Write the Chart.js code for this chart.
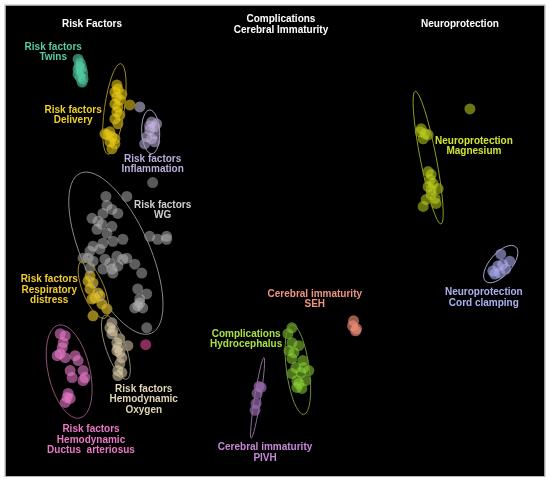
<!DOCTYPE html>
<html>
<head>
<meta charset="utf-8">
<script src="https://cdn.jsdelivr.net/npm/chart.js@4"></script>
<style>
html,body{margin:0;padding:0;background:#ffffff;}
canvas{display:block;}
</style>
</head>
<body>
<canvas id="c" width="550" height="482"></canvas>
<script>
// ---- Data (embedding coordinates) ----
const twins = [[78,57],[80,61],[79,64],[78,67],[82,70],[78,72],[80,75],[83,77],[82,80],[81,66]];
const delivery = [[117,83],[118,87],[115,90],[122,92],[117,95],[120,98],[115,102],[118,105],[117,110],[120,113],[115,117],[118,122],[105,132],[110,130],[107,133],[112,135],[115,137],[110,140],[115,142],[112,147]];
const deliveryOut = [[130,103]];
const inflammation = [[152,120],[157,122],[155,125],[150,128],[155,132],[147,135],[152,137],[155,140],[145,142],[150,124]];
const inflammationOut = [[140,105]];
const wg = [[106,195],[127,195],[107,204],[112,208],[103,212],[118,212],[92,217],[98,220],[102,223],[112,225],[97,228],[107,232],[113,240],[123,238],[103,242],[93,245],[90,250],[100,248],[88,257],[93,260],[105,258],[110,262],[117,255],[123,258],[112,268],[118,265],[127,257],[135,263],[142,272],[103,268],[113,272],[150,235],[158,238],[167,235],[167,238],[138,288],[147,293],[140,298],[138,305],[143,307],[135,307],[147,327],[90,267],[83,257],[140,302]];
const wgOut = [[153,181]];
const respiratory = [[90,275],[88,280],[93,282],[90,288],[98,292],[95,297],[100,295],[92,298],[102,303],[107,308],[93,315]];
const oxygen = [[112,322],[110,327],[113,330],[112,333],[120,338],[117,342],[128,345],[118,347],[117,350],[120,352],[122,357],[120,363],[118,370],[122,372],[118,375]];
const ductus = [[60,333],[65,335],[63,342],[62,347],[60,353],[57,355],[65,357],[75,355],[78,360],[70,370],[72,377],[83,370],[85,377],[83,380],[68,393],[67,397],[70,398],[65,402]];
const ductusOut = [[146,344]];
const hydrocephalus = [[293,327],[289,333],[293,342],[300,345],[290,350],[295,352],[293,358],[304,360],[297,367],[305,367],[310,370],[302,372],[293,373],[298,380],[307,380],[300,383],[298,387],[303,388]];
const pivh = [[260,386],[262,387],[258,393],[257,403],[256,410]];
const seh = [[355,320],[354,325],[358,328],[357,330]];
const magnesium = [[423,127],[422,130],[427,132],[425,137],[430,133],[430,170],[433,173],[432,178],[435,182],[430,185],[440,187],[433,188],[433,193],[437,197],[428,198],[438,202],[425,205]];
const magnesiumOut = [[472,107]];
const cordClamping = [[503,253],[512,260],[505,263],[500,265],[495,270],[497,273],[508,268],[502,272]];

// confidence ellipses: centre, semi-axes (minor, major), tilt in degrees
const ellipses = [
  {cx:81, cy:69, b:6, a:15, rot:-8, color:'#3f8a72'},
  {cx:114.5, cy:107, b:10, a:46, rot:8, color:'#9c8a1c'},
  {cx:151, cy:130, b:9, a:22, rot:-3, color:'#a79fbc'},
  {cx:116, cy:252, b:34, a:88, rot:-24, color:'#8a8a8a'},
  {cx:93.5, cy:288.5, b:11, a:31, rot:-22, color:'#a08a22'},
  {cx:116, cy:346.5, b:10, a:34, rot:-19, color:'#8c8474'},
  {cx:69, cy:371, b:21, a:48, rot:-13, color:'#8e4f76'},
  {cx:299, cy:369, b:11.5, a:45.5, rot:-7.6, color:'#6f8e34'},
  {cx:258.5, cy:397.5, b:3, a:41, rot:9, color:'#8a6c9c'},
  {cx:430, cy:156, b:8, a:68, rot:-11, color:'#8e9c1e'},
  {cx:503, cy:263, b:11, a:23, rot:41, color:'#a2a2d6'}
];

const headers = [
  {lines:['Risk Factors'], x:92, y:22},
  {lines:['Complications','Cerebral Immaturity'], x:282, y:17},
  {lines:['Neuroprotection'], x:462, y:22}
];
const labels = [
  {lines:['Risk factors','Twins'], x:53, y:45, color:'#58cba6'},
  {lines:['Risk factors','Delivery'], x:73, y:108, color:'#f0d020'},
  {lines:['Risk factors','Inflammation'], x:153, y:157.5, color:'#bcaedb'},
  {lines:['Risk factors','WG'], x:163, y:203.5, color:'#cfcfcf'},
  {lines:['Risk factors','Respiratory','distress'], x:49, y:278.5, color:'#f2cc2c'},
  {lines:['Risk factors','Hemodynamic','Oxygen'], x:144, y:388.5, color:'#e2d4b4'},
  {lines:['Risk factors','Hemodynamic','Ductus  arteriosus'], x:91, y:429.5, color:'#ea78c6'},
  {lines:['Cerebral immaturity','SEH'], x:316, y:293, color:'#ee9480'},
  {lines:['Complications','Hydrocephalus'], x:247, y:333, color:'#a8e044'},
  {lines:['Cerebral immaturity','PIVH'], x:266, y:447.5, color:'#c888da'},
  {lines:['Neuroprotection','Magnesium'], x:476, y:139.5, color:'#d4e432'},
  {lines:['Neuroprotection','Cord clamping'], x:486, y:291.5, color:'#aab2f0'}
];

const toXY = arr => arr.map(p => ({x:p[0], y:p[1]}));
function ds(arr, color, r){
  return {data: toXY(arr), backgroundColor: color, borderWidth: 0, pointRadius: r || 5.5, pointHoverRadius: r || 5.5};
}

const bgPlugin = {
  id:'bg',
  beforeDraw(chart){
    const {ctx, chartArea:a} = chart;
    ctx.save();
    ctx.fillStyle = '#000';
    ctx.fillRect(a.left, a.top, a.right-a.left, a.bottom-a.top);
    ctx.strokeStyle = '#b4b4b4';
    ctx.lineWidth = 1;
    ctx.strokeRect(a.left-0.5, a.top-0.5, a.right-a.left+1, a.bottom-a.top+1);
    ctx.restore();
  }
};

const ellipsePlugin = {
  id:'ellipses',
  afterDatasetsDraw(chart){
    const {ctx, scales:{x, y}} = chart;
    ctx.save();
    ellipses.forEach(e => {
      const px = x.getPixelForValue(e.cx), py = y.getPixelForValue(e.cy);
      const kx = Math.abs(x.getPixelForValue(e.cx+1) - px);
      const ky = Math.abs(y.getPixelForValue(e.cy+1) - py);
      ctx.beginPath();
      ctx.ellipse(px, py, e.b*kx, e.a*ky, e.rot*Math.PI/180, 0, Math.PI*2);
      ctx.strokeStyle = e.color;
      ctx.lineWidth = 1;
      ctx.stroke();
    });
    ctx.restore();
  }
};

const textPlugin = {
  id:'texts',
  afterDraw(chart){
    const {ctx, scales:{x, y}} = chart;
    ctx.save();
    ctx.textAlign = 'center';
    ctx.textBaseline = 'middle';
    ctx.font = 'bold 10px "Liberation Sans", Arial, sans-serif';
    const draw = (l, color) => {
      const px = x.getPixelForValue(l.x);
      l.lines.forEach((t, i) => {
        ctx.fillStyle = color;
        ctx.fillText(t, px, y.getPixelForValue(l.y + i*10.5));
      });
    };
    headers.forEach(h => draw(h, '#ffffff'));
    labels.forEach(l => draw(l, l.color));
    ctx.restore();
  }
};

new Chart(document.getElementById('c'), {
  type:'scatter',
  data:{datasets:[
    ds(wg, 'rgba(185,185,185,0.5)'),
    ds(wgOut, 'rgba(110,110,110,0.8)'),
    ds(twins, 'rgba(84,204,164,0.6)'),
    ds(delivery, 'rgba(232,200,20,0.6)'),
    ds(deliveryOut, 'rgba(150,130,15,0.9)'),
    ds(inflammation, 'rgba(196,178,222,0.55)'),
    ds(inflammationOut, 'rgba(130,125,145,0.9)'),
    ds(respiratory, 'rgba(226,190,40,0.65)'),
    ds(oxygen, 'rgba(222,208,172,0.55)'),
    ds(ductus, 'rgba(232,122,202,0.6)'),
    ds(ductusOut, 'rgba(150,50,100,0.9)'),
    ds(hydrocephalus, 'rgba(140,212,52,0.55)'),
    ds(pivh, 'rgba(160,110,182,0.65)'),
    ds(seh, 'rgba(236,140,120,0.65)'),
    ds(magnesium, 'rgba(192,212,30,0.55)'),
    ds(magnesiumOut, 'rgba(120,130,20,0.9)'),
    ds(cordClamping, 'rgba(172,172,240,0.6)')
  ]},
  options:{
    responsive:false,
    animation:false,
    events:[],
    layout:{padding:{left:5, top:3, right:3, bottom:6}},
    plugins:{legend:{display:false}, tooltip:{enabled:false}},
    scales:{
      x:{type:'linear', min:5, max:547, display:false},
      y:{type:'linear', min:3, max:476, reverse:true, display:false}
    }
  },
  plugins:[bgPlugin, ellipsePlugin, textPlugin]
});
</script>
</body>
</html>
